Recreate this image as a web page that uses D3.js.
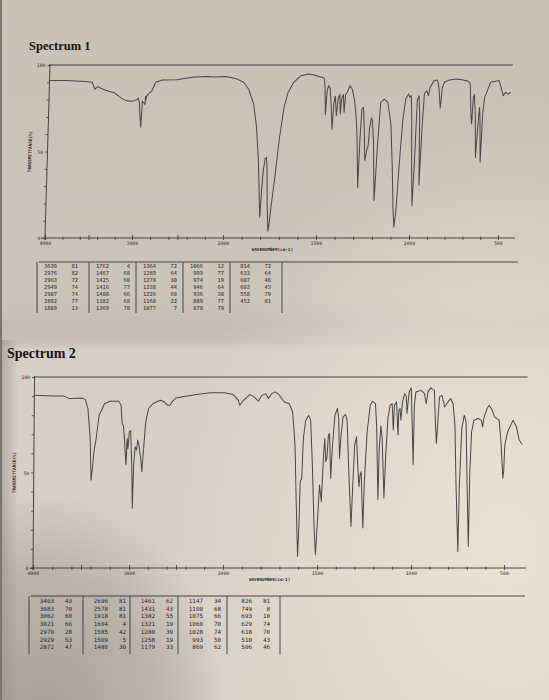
<!DOCTYPE html>
<html>
<head>
<meta charset="utf-8">
<script src="https://cdn.jsdelivr.net/npm/d3@7/dist/d3.min.js"></script>
<style>
  html, body { margin: 0; padding: 0; background: #d1cbc0; }
  svg { display: block; }
</style>
</head>
<body>
<svg id="page" width="549" height="700"></svg>
<script>
// wavenumber (cm-1), transmittance (%)
const spectrum1 = [
  [4000, 91], [3800, 91], [3600, 90.5], [3510, 90], [3476, 86], [3445, 87.5], [3380, 86], [3329, 85],
  [3252, 84], [3175, 81], [3137, 80], [3079, 79], [3021, 79.4], [2985, 80], [2975, 81], [2962, 78],
  [2950, 70], [2940, 64], [2934, 72], [2930, 79], [2915, 78], [2908, 78], [2900, 77], [2895, 82],
  [2890, 80], [2884, 82], [2870, 83], [2829, 85], [2790, 90], [2713, 91.3], [2560, 91.5], [2370, 93],
  [2290, 93.2], [2216, 93.4], [2150, 93], [2019, 93.3], [1952, 92], [1913, 90], [1885, 86], [1856, 77.5],
  [1837, 64], [1823, 46.6], [1813, 27], [1806, 12], [1800, 27], [1794, 39], [1786, 45.7], [1779, 46.6],
  [1774, 40], [1768, 19.7], [1760, 4], [1755, 8], [1745, 20], [1731, 35], [1712, 58], [1692, 75.5],
  [1673, 84], [1644, 90], [1606, 93.8], [1567, 94.8], [1540, 94.4], [1510, 93.3], [1481, 92.5], [1475, 88],
  [1469, 71.3], [1463, 85], [1456, 88], [1447, 86.5], [1440, 78], [1431, 62.8], [1425, 78], [1418, 82],
  [1410, 70.7], [1402, 81], [1394, 83], [1389, 71.7], [1383, 81], [1375, 83], [1369, 72.6], [1363, 83],
  [1356, 84], [1340, 88], [1328, 86], [1313, 79], [1302, 69], [1295, 58], [1284, 29], [1279, 58],
  [1273, 74.6], [1265, 75.5], [1258, 64], [1250, 44.7], [1240, 51.4], [1235, 52.5], [1228, 64], [1221, 69.4],
  [1215, 68], [1206, 56], [1194, 21.6], [1183, 56], [1173, 78.4], [1154, 80.3], [1135, 78.4], [1115, 65.9],
  [1102, 42.8], [1090, 15.8], [1083, 6.2], [1075, 15.8], [1064, 42.8], [1052, 67.8], [1039, 80.3], [1025, 83.2],
  [1017, 81.3], [1010, 82.3], [1004, 70], [996, 39], [989, 18.7], [982, 43], [976, 79.4], [967, 82.3],
  [960, 71.5], [953, 30.3], [945, 62], [937, 83.2], [924, 85.2], [914, 82.3], [906, 87], [895, 89],
  [885, 91], [866, 91.3], [856, 87], [846, 75], [837, 87], [827, 90], [798, 91.3], [760, 91.9],
  [721, 91.3], [692, 90.6], [681, 89], [671, 69.7], [667, 66], [661, 81.3], [656, 83], [648, 71.5],
  [640, 46.6], [633, 62], [625, 75.5], [621, 70], [613, 43.7], [606, 72], [598, 81.3], [587, 84.2],
  [567, 90], [539, 90.6], [519, 91], [510, 88], [494, 82.3], [481, 84.2], [467, 83.2], [452, 84.2]
];

const spectrum2 = [
  [4000, 90.4], [3801, 90], [3691, 90], [3636, 88.7], [3507, 89], [3471, 88.3], [3441, 83.5], [3415, 67.8],
  [3403, 46], [3390, 52], [3372, 62], [3353, 67.8], [3324, 80], [3268, 86], [3213, 87.3], [3121, 87.3],
  [3096, 85.2], [3083, 75.7], [3070, 74.5], [3058, 67.8], [3045, 57], [3040, 54], [3030, 67.8], [3021, 62.5],
  [3008, 71.3], [2994, 72], [2980, 54], [2970, 31.3], [2960, 54], [2945, 63.5], [2930, 61.8], [2918, 67],
  [2904, 64], [2882, 56], [2872, 50.4], [2860, 59], [2834, 76.5], [2805, 83.5], [2760, 86], [2705, 87.3],
  [2680, 87.8], [2640, 87], [2600, 85.2], [2578, 85.2], [2555, 87], [2515, 89], [2441, 89.6], [2294, 90.8],
  [2147, 91.7], [2000, 91.7], [1953, 90.8], [1925, 87.8], [1918, 85.2], [1898, 87.8], [1865, 90.8], [1841, 89.6],
  [1819, 87.3], [1800, 90.4], [1779, 91.3], [1766, 88.7], [1748, 91.3], [1729, 92.2], [1710, 90.8], [1682, 87],
  [1654, 86], [1636, 81.7], [1622, 64.3], [1613, 33], [1604, 6], [1598, 22.6], [1593, 45.2], [1585, 47],
  [1578, 67.8], [1566, 77.4], [1551, 80], [1540, 77.4], [1529, 54], [1518, 22.6], [1509, 7], [1499, 26],
  [1490, 43.5], [1480, 34.8], [1475, 47], [1469, 60.9], [1464, 67.8], [1458, 55.7], [1452, 57.4], [1445, 69.6],
  [1439, 70.4], [1431, 47], [1424, 62.6], [1411, 80], [1398, 83.5], [1391, 78.3], [1385, 57.4], [1379, 67.8],
  [1368, 79.1], [1355, 80.3], [1346, 77.4], [1335, 50.4], [1321, 21.7], [1316, 36.5], [1305, 64.3], [1295, 68.7],
  [1288, 54], [1280, 42.6], [1275, 48.7], [1269, 50.4], [1264, 36.5], [1258, 20.9], [1252, 45.2], [1239, 71.3],
  [1224, 85.2], [1211, 87.3], [1196, 86], [1189, 74.8], [1179, 35.7], [1174, 62.6], [1166, 74.4], [1159, 67.8],
  [1147, 36.5], [1140, 57.4], [1129, 78.3], [1118, 85.2], [1107, 86], [1100, 72.2], [1095, 85.2], [1084, 87],
  [1075, 69.6], [1071, 82.6], [1065, 83.5], [1060, 77.4], [1052, 87], [1041, 91.3], [1032, 89.6], [1028, 80.9],
  [1017, 92.2], [1006, 94.3], [993, 54], [989, 85.2], [981, 92.2], [953, 93], [935, 91.3], [925, 86],
  [916, 92.2], [901, 94.3], [882, 93], [875, 76.5], [869, 65.2], [862, 76.5], [854, 89.6], [841, 90.4],
  [832, 87], [826, 84.3], [808, 87], [794, 88.7], [781, 86], [770, 74.8], [761, 41.7], [749, 8.7],
  [744, 41.7], [733, 73], [720, 80], [710, 76.5], [703, 47], [693, 11.3], [688, 50.4], [680, 71.3],
  [668, 77.4], [645, 78.3], [629, 77.4], [621, 73.9], [615, 78.3], [598, 83.5], [587, 85.2], [570, 82.6],
  [557, 79.1], [533, 77.4], [523, 67.8], [510, 47], [506, 50.4], [501, 64.3], [486, 71.3], [458, 77.4],
  [439, 73.9], [424, 67], [407, 64.7]
];

// peak tables printed under each trace (wavenumber, %T), column by column
const table1 = [
  [3639, 81], [2976, 82], [2963, 72], [2949, 74], [2907, 74], [2892, 77], [1809, 13],
  [1762, 4], [1467, 68], [1425, 60], [1416, 77], [1408, 66], [1382, 68], [1369, 70],
  [1364, 72], [1289, 64], [1278, 30], [1238, 44], [1226, 60], [1160, 22], [1077, 7],
  [1066, 12], [999, 77], [974, 19], [946, 64], [936, 30], [889, 77], [870, 79],
  [814, 72], [633, 64], [607, 46], [603, 43], [558, 79], [452, 81]
];

const table2 = [
  [3403, 43], [3083, 70], [3062, 60], [3021, 66], [2970, 28], [2929, 53], [2872, 47],
  [2696, 81], [2578, 81], [1918, 81], [1604, 4], [1585, 42], [1509, 5], [1480, 30],
  [1461, 62], [1431, 43], [1382, 55], [1321, 19], [1280, 39], [1258, 19], [1179, 33],
  [1147, 34], [1100, 68], [1075, 66], [1060, 70], [1028, 74], [993, 50], [869, 62],
  [826, 81], [749, 8], [693, 10], [629, 74], [618, 70], [510, 43], [506, 46]
];

const xTickLabels = [4000, 3000, 2000, 1500, 1000, 500];
const yTickLabels = [0, 50, 100];

const ink = '#363636';
const trace = '#474747';
const mono = '"DejaVu Sans Mono", monospace';

const svg = d3.select('#page');

function drawPaper() {
    const defs = svg.append('defs');

    const band = defs.append('linearGradient').attr('id', 'band')
        .attr('x1', 0).attr('y1', 0).attr('x2', 0).attr('y2', 1);
    band.append('stop').attr('offset', '0').attr('stop-color', '#c8c1b4');
    band.append('stop').attr('offset', '0.42').attr('stop-color', '#cbc5b9');
    band.append('stop').attr('offset', '0.465').attr('stop-color', '#c2bcb2');
    band.append('stop').attr('offset', '0.49').attr('stop-color', '#c7c1b7');
    band.append('stop').attr('offset', '0.5').attr('stop-color', '#d5cfc4');
    band.append('stop').attr('offset', '1').attr('stop-color', '#d8d1c5');

    const light = defs.append('radialGradient').attr('id', 'light')
        .attr('cx', 0.92).attr('cy', 0.78).attr('r', 0.6);
    light.append('stop').attr('offset', '0').attr('stop-color', '#ebe2d3').attr('stop-opacity', 1);
    light.append('stop').attr('offset', '0.6').attr('stop-color', '#e6ddcf').attr('stop-opacity', 0.6);
    light.append('stop').attr('offset', '1').attr('stop-color', '#e6ddcf').attr('stop-opacity', 0);

    const shade = defs.append('radialGradient').attr('id', 'shade')
        .attr('cx', 0.08).attr('cy', 1.03).attr('r', 0.33);
    shade.append('stop').attr('offset', '0').attr('stop-color', '#9d978f').attr('stop-opacity', 0.85);
    shade.append('stop').attr('offset', '0.65').attr('stop-color', '#a8a29a').attr('stop-opacity', 0.6);
    shade.append('stop').attr('offset', '1').attr('stop-color', '#a8a29a').attr('stop-opacity', 0);

    const edge = defs.append('linearGradient').attr('id', 'edge')
        .attr('x1', 0).attr('y1', 0).attr('x2', 1).attr('y2', 0);
    edge.append('stop').attr('offset', '0').attr('stop-color', '#8f8a83').attr('stop-opacity', 0.55);
    edge.append('stop').attr('offset', '1').attr('stop-color', '#8f8a83').attr('stop-opacity', 0);

    svg.append('rect').attr('width', 549).attr('height', 700).attr('fill', 'url(#band)');
    svg.append('rect').attr('width', 549).attr('height', 700).attr('fill', 'url(#light)');
    svg.append('rect').attr('width', 549).attr('height', 700).attr('fill', 'url(#shade)');
    svg.append('rect').attr('y', 340).attr('width', 18).attr('height', 360).attr('fill', 'url(#edge)');
    svg.append('rect').attr('width', 2).attr('height', 700).attr('fill', '#7b7670');
}

function drawSpectrum(cfg) {
    svg.append('text')
        .attr('x', cfg.titleX).attr('y', cfg.titleY)
        .attr('font-family', '"Liberation Serif", serif')
        .attr('font-weight', 'bold')
        .attr('font-size', cfg.titleSize)
        .attr('fill', '#141414')
        .text(cfg.title);

    const x = d3.scaleLinear().domain(xTickLabels).range(cfg.xStops);
    const y = d3.scaleLinear().domain([0, 100]).range([cfg.yBottom, cfg.yTop]);

    // the photo is a little skewed, lean the frame with it
    const k = cfg.lean;
    const g = svg.append('g')
        .attr('transform', `translate(${k * cfg.yBottom},0) skewX(${-Math.atan(k) * 180 / Math.PI})`);

    g.append('line')
        .attr('x1', x(4000)).attr('x2', cfg.frameEnd)
        .attr('y1', y(100)).attr('y2', y(100))
        .attr('stroke', ink).attr('stroke-width', 0.9);

    g.append('line')
        .attr('x1', cfg.axisStart).attr('x2', cfg.axisEnd)
        .attr('y1', y(0)).attr('y2', y(0))
        .attr('stroke', ink).attr('stroke-width', 0.9);

    g.append('line')
        .attr('x1', x(4000)).attr('x2', x(4000))
        .attr('y1', y(100) - 1).attr('y2', y(0) + 2)
        .attr('stroke', ink).attr('stroke-width', 0.9);

    const ticks = d3.range(4000, 2000, -100).filter(d => d % 200 === 0 || d % 500 === 0)
        .concat(d3.range(2000, cfg.lowEnd - 1, -100));

    const xAxis = g.append('g')
        .attr('transform', `translate(0,${y(0)})`)
        .call(d3.axisBottom(x).tickValues(ticks).tickSize(2).tickPadding(2)
            .tickFormat(d => xTickLabels.includes(d) ? d : ''));
    xAxis.select('.domain').remove();
    xAxis.selectAll('.tick line')
        .attr('y1', d => d % 500 === 0 ? -3 : -1.5)
        .attr('stroke', ink).attr('stroke-width', 0.8);
    xAxis.selectAll('.tick text')
        .attr('font-family', mono).attr('font-size', 4.8).attr('fill', '#2a2a2a');

    const yAxis = g.append('g')
        .attr('transform', `translate(${x(4000)},0)`)
        .call(d3.axisLeft(y).tickValues(d3.range(0, 101, 10)).tickSize(2.5).tickPadding(2)
            .tickFormat(d => yTickLabels.includes(d) ? d : ''));
    yAxis.select('.domain').remove();
    yAxis.selectAll('.tick line').attr('stroke', ink).attr('stroke-width', 0.8);
    yAxis.selectAll('.tick text')
        .attr('font-family', mono).attr('font-size', 4.8).attr('fill', '#2a2a2a');

    g.append('text')
        .attr('x', cfg.xTitleX).attr('y', y(0) + 13)
        .attr('font-family', mono).attr('font-size', 4.3).attr('font-weight', 'bold').attr('fill', '#2a2a2a')
        .text('WAVENUMBER(cm-1)');

    g.append('text')
        .attr('transform', `translate(${cfg.yTitleX},${y(50)}) rotate(-90)`)
        .attr('text-anchor', 'middle')
        .attr('font-family', mono).attr('font-size', 4.3).attr('font-weight', 'bold').attr('fill', '#2a2a2a')
        .text('TRANSMITTANCE(%)');

    const line = d3.line()
        .x(d => x(d[0]))
        .y(d => y(d[1]));

    g.append('path')
        .datum(cfg.data)
        .attr('d', line)
        .attr('fill', 'none')
        .attr('stroke', trace)
        .attr('stroke-width', 1)
        .attr('stroke-linejoin', 'round');
}

function drawPeakTable(cfg) {
    const g = svg.append('g');

    g.append('line')
        .attr('x1', cfg.cols[0] + 2).attr('x2', cfg.ruleEnd)
        .attr('y1', cfg.top).attr('y2', cfg.top)
        .attr('stroke', ink).attr('stroke-width', 0.9);

    g.selectAll('line.col')
        .data(cfg.cols)
        .enter()
        .append('line')
        .attr('class', 'col')
        .attr('x1', d => d).attr('x2', d => d)
        .attr('y1', cfg.top).attr('y2', cfg.bottom)
        .attr('stroke', ink).attr('stroke-width', 0.9);

    const cells = g.selectAll('g.cell')
        .data(cfg.rows)
        .enter()
        .append('g')
        .attr('class', 'cell')
        .attr('transform', (d, i) => {
            const c = Math.floor(i / 7), r = i % 7;
            return `translate(${cfg.cols[c]},${cfg.firstRow + r * cfg.rowStep})`;
        });

    cells.append('text')
        .attr('x', cfg.wnRight)
        .attr('text-anchor', 'end')
        .attr('font-family', mono).attr('font-size', cfg.fontSize).attr('fill', '#262626')
        .text(d => d[0]);

    cells.append('text')
        .attr('x', cfg.pctRight)
        .attr('text-anchor', 'end')
        .attr('font-family', mono).attr('font-size', cfg.fontSize).attr('fill', '#262626')
        .text(d => d[1]);
}

drawPaper();

drawSpectrum({
    title: 'Spectrum 1', titleX: 29, titleY: 50, titleSize: 12.5,
    data: spectrum1,
    xStops: [45, 132, 223, 316, 409, 498],
    yTop: 65, yBottom: 238,
    frameEnd: 508, axisStart: 41, axisEnd: 515, lowEnd: 500,
    xTitleX: 252, yTitleX: 29, lean: 0.029
});

drawPeakTable({
    rows: table1,
    top: 262, bottom: 313,
    cols: [37, 89, 136, 183, 230, 282],
    ruleEnd: 518,
    firstRow: 268, rowStep: 7,
    wnRight: 20, pctRight: 41, fontSize: 5.4
});

drawSpectrum({
    title: 'Spectrum 2', titleX: 7, titleY: 358, titleSize: 14,
    data: spectrum2,
    xStops: [33, 129, 223, 317, 411, 504],
    yTop: 377, yBottom: 568,
    frameEnd: 526, axisStart: 30, axisEnd: 526, lowEnd: 500,
    xTitleX: 249, yTitleX: 15, lean: 0.008
});

drawPeakTable({
    rows: table2,
    top: 596, bottom: 654,
    cols: [29, 83, 130, 178, 227, 280],
    ruleEnd: 525,
    firstRow: 603, rowStep: 7.7,
    wnRight: 25, pctRight: 43, fontSize: 5.9
});
</script>
</body>
</html>
